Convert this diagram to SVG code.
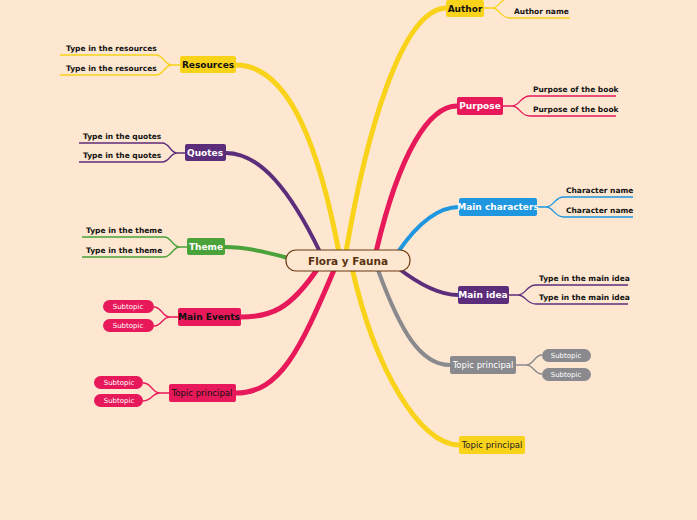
<svg xmlns="http://www.w3.org/2000/svg" width="697" height="520" viewBox="0 0 697 520">
<style>
text{font-family:"DejaVu Sans","Liberation Sans",sans-serif}
.m{fill:none;stroke-linecap:round}
.t{fill:none;stroke-width:1.3}
.lb{font-size:7.5px;font-weight:bold;fill:#111}
.nt{font-size:9px;font-weight:bold;text-anchor:middle}
.st{font-size:7px;fill:#fff;text-anchor:middle}
</style>
<rect width="697" height="520" fill="#fde7d0"/>
<g id="connectors">
<path class="m" stroke="#f9d21a" stroke-width="5" d="M346,252 C365,140 400,10 446,8"/>
<path class="m" stroke="#f9d21a" stroke-width="5" d="M340,258 C320,150 290,65 236,65"/>
<path class="m" stroke="#f9d21a" stroke-width="5" d="M352,268 C375,370 420,445 459,445"/>
<path class="m" stroke="#e8195a" stroke-width="5" d="M376,252 C400,150 430,106 457,106"/>
<path class="m" stroke="#e8195a" stroke-width="5" d="M318,268 C290,310 270,317 241,317"/>
<path class="m" stroke="#e8195a" stroke-width="5" d="M334,270 C300,350 280,393 236,393"/>
<path class="m" stroke="#1e96e0" stroke-width="4" d="M398,252 C420,220 440,207 459,207"/>
<path class="m" stroke="#5c2d7a" stroke-width="4" d="M398,268 C420,285 440,295 458,295"/>
<path class="m" stroke="#8a8a8e" stroke-width="4" d="M378,270 C400,330 420,365 450,365"/>
<path class="m" stroke="#5c2d7a" stroke-width="4" d="M320,252 C290,190 260,153 226,153"/>
<path class="m" stroke="#4aa23a" stroke-width="4" d="M288,258 C260,250 240,247 225,247"/>
<path class="t" stroke="#f9d21a" d="M484,8 H492 C500,8 500,-2 510,-2 M492,8 C500,8 500,18 510,18 H570"/>
<path class="t" stroke="#e8195a" d="M503,106 H512 C520,106 520,96 530,96 H616 M512,106 C520,106 520,116 530,116 H616"/>
<path class="t" stroke="#1e96e0" d="M537,207 H546 C554,207 554,197 564,197 H633 M546,207 C554,207 554,217 564,217 H633"/>
<path class="t" stroke="#5c2d7a" d="M509,295 H518 C526,295 526,285 536,285 H628 M518,295 C526,295 526,304 536,304 H628"/>
<path class="t" stroke="#8a8a8e" d="M516,365 H526 C534,365 534,355 542,355 M526,365 C534,365 534,374 542,374"/>
<path class="t" stroke="#f9d21a" d="M180,65 H172 C164,65 164,55 156,55 H60 M172,65 C164,65 164,75 156,75 H60"/>
<path class="t" stroke="#5c2d7a" d="M185,153 H177 C170,153 170,143 162,143 H79 M177,153 C170,153 170,162 162,162 H79"/>
<path class="t" stroke="#4aa23a" d="M187,247 H180 C172,247 172,237 164,237 H82 M180,247 C172,247 172,257 164,257 H82"/>
<path class="t" stroke="#e8195a" d="M178,317 H170 C162,317 162,307 154,307 M170,317 C162,317 162,326 154,326"/>
<path class="t" stroke="#e8195a" d="M169,393 H160 C152,393 152,383 143,383 M160,393 C152,393 152,401 143,401"/>
</g>
<g id="center"><rect x="286" y="250" width="124" height="21" rx="10" fill="#fde7d0" stroke="#6b3a12" stroke-width="1.2"/><text x="348" y="265" text-anchor="middle" font-size="10.5" font-weight="bold" fill="#5a3210">Flora y Fauna</text></g>
<g id="author"><rect x="446" y="0" width="38" height="17" rx="2" fill="#f9d21a"/><text class="nt" x="465" y="12" fill="#111">Author</text><text class="lb" x="514" y="14">Author name</text></g>
<g id="purpose"><rect x="457" y="97" width="46" height="18" rx="2" fill="#e8195a"/><text class="nt" x="480" y="109" fill="#fff">Purpose</text><text class="lb" x="533" y="92">Purpose of the book</text><text class="lb" x="533" y="112">Purpose of the book</text></g>
<g id="characters"><rect x="459" y="198" width="78" height="18" rx="2" fill="#1e96e0"/><text class="nt" x="498" y="210" fill="#fff">Main characters</text><text class="lb" x="566" y="193">Character name</text><text class="lb" x="566" y="213">Character name</text></g>
<g id="mainidea"><rect x="458" y="286" width="51" height="18" rx="2" fill="#5c2d7a"/><text class="nt" x="483" y="298" fill="#fff">Main idea</text><text class="lb" x="539" y="281">Type in the main idea</text><text class="lb" x="539" y="300">Type in the main idea</text></g>
<g id="topic-gray"><rect x="450" y="356" width="66" height="18" rx="2" fill="#8a8a8e"/><text x="483" y="368" text-anchor="middle" font-size="8.5" fill="#fff">Topic principal</text>
<rect x="542" y="349" width="49" height="13" rx="6.5" fill="#8a8a8e"/><text class="st" x="566" y="358">Subtopic</text>
<rect x="542" y="368" width="49" height="13" rx="6.5" fill="#8a8a8e"/><text class="st" x="566" y="377">Subtopic</text></g>
<g id="topic-yellow"><rect x="459" y="436" width="66" height="18" rx="2" fill="#f9d21a"/><text x="492" y="448" text-anchor="middle" font-size="8.5" fill="#222">Topic principal</text></g>
<g id="resources"><rect x="180" y="56" width="56" height="17" rx="2" fill="#f9d21a"/><text class="nt" x="208" y="68" fill="#111">Resources</text><text class="lb" x="66" y="51">Type in the resources</text><text class="lb" x="66" y="71">Type in the resources</text></g>
<g id="quotes"><rect x="185" y="144" width="41" height="17" rx="2" fill="#5c2d7a"/><text class="nt" x="205" y="156" fill="#fff">Quotes</text><text class="lb" x="83" y="139">Type in the quotes</text><text class="lb" x="83" y="158">Type in the quotes</text></g>
<g id="theme"><rect x="187" y="238" width="38" height="17" rx="2" fill="#4aa23a"/><text class="nt" x="206" y="250" fill="#fff">Theme</text><text class="lb" x="86" y="233">Type in the theme</text><text class="lb" x="86" y="253">Type in the theme</text></g>
<g id="mainevents"><rect x="178" y="308" width="63" height="18" rx="2" fill="#e8195a"/><text class="nt" x="209" y="320" fill="#111">Main Events</text>
<rect x="103" y="300" width="51" height="13" rx="6.5" fill="#e8195a"/><text class="st" x="128" y="309">Subtopic</text>
<rect x="103" y="319" width="51" height="13" rx="6.5" fill="#e8195a"/><text class="st" x="128" y="328">Subtopic</text></g>
<g id="topic-red"><rect x="169" y="384" width="67" height="18" rx="2" fill="#e8195a"/><text x="202" y="396" text-anchor="middle" font-size="8.5" fill="#111">Topic principal</text>
<rect x="94" y="376" width="49" height="13" rx="6.5" fill="#e8195a"/><text class="st" x="119" y="385">Subtopic</text>
<rect x="94" y="394" width="49" height="13" rx="6.5" fill="#e8195a"/><text class="st" x="119" y="403">Subtopic</text></g>
</svg>
